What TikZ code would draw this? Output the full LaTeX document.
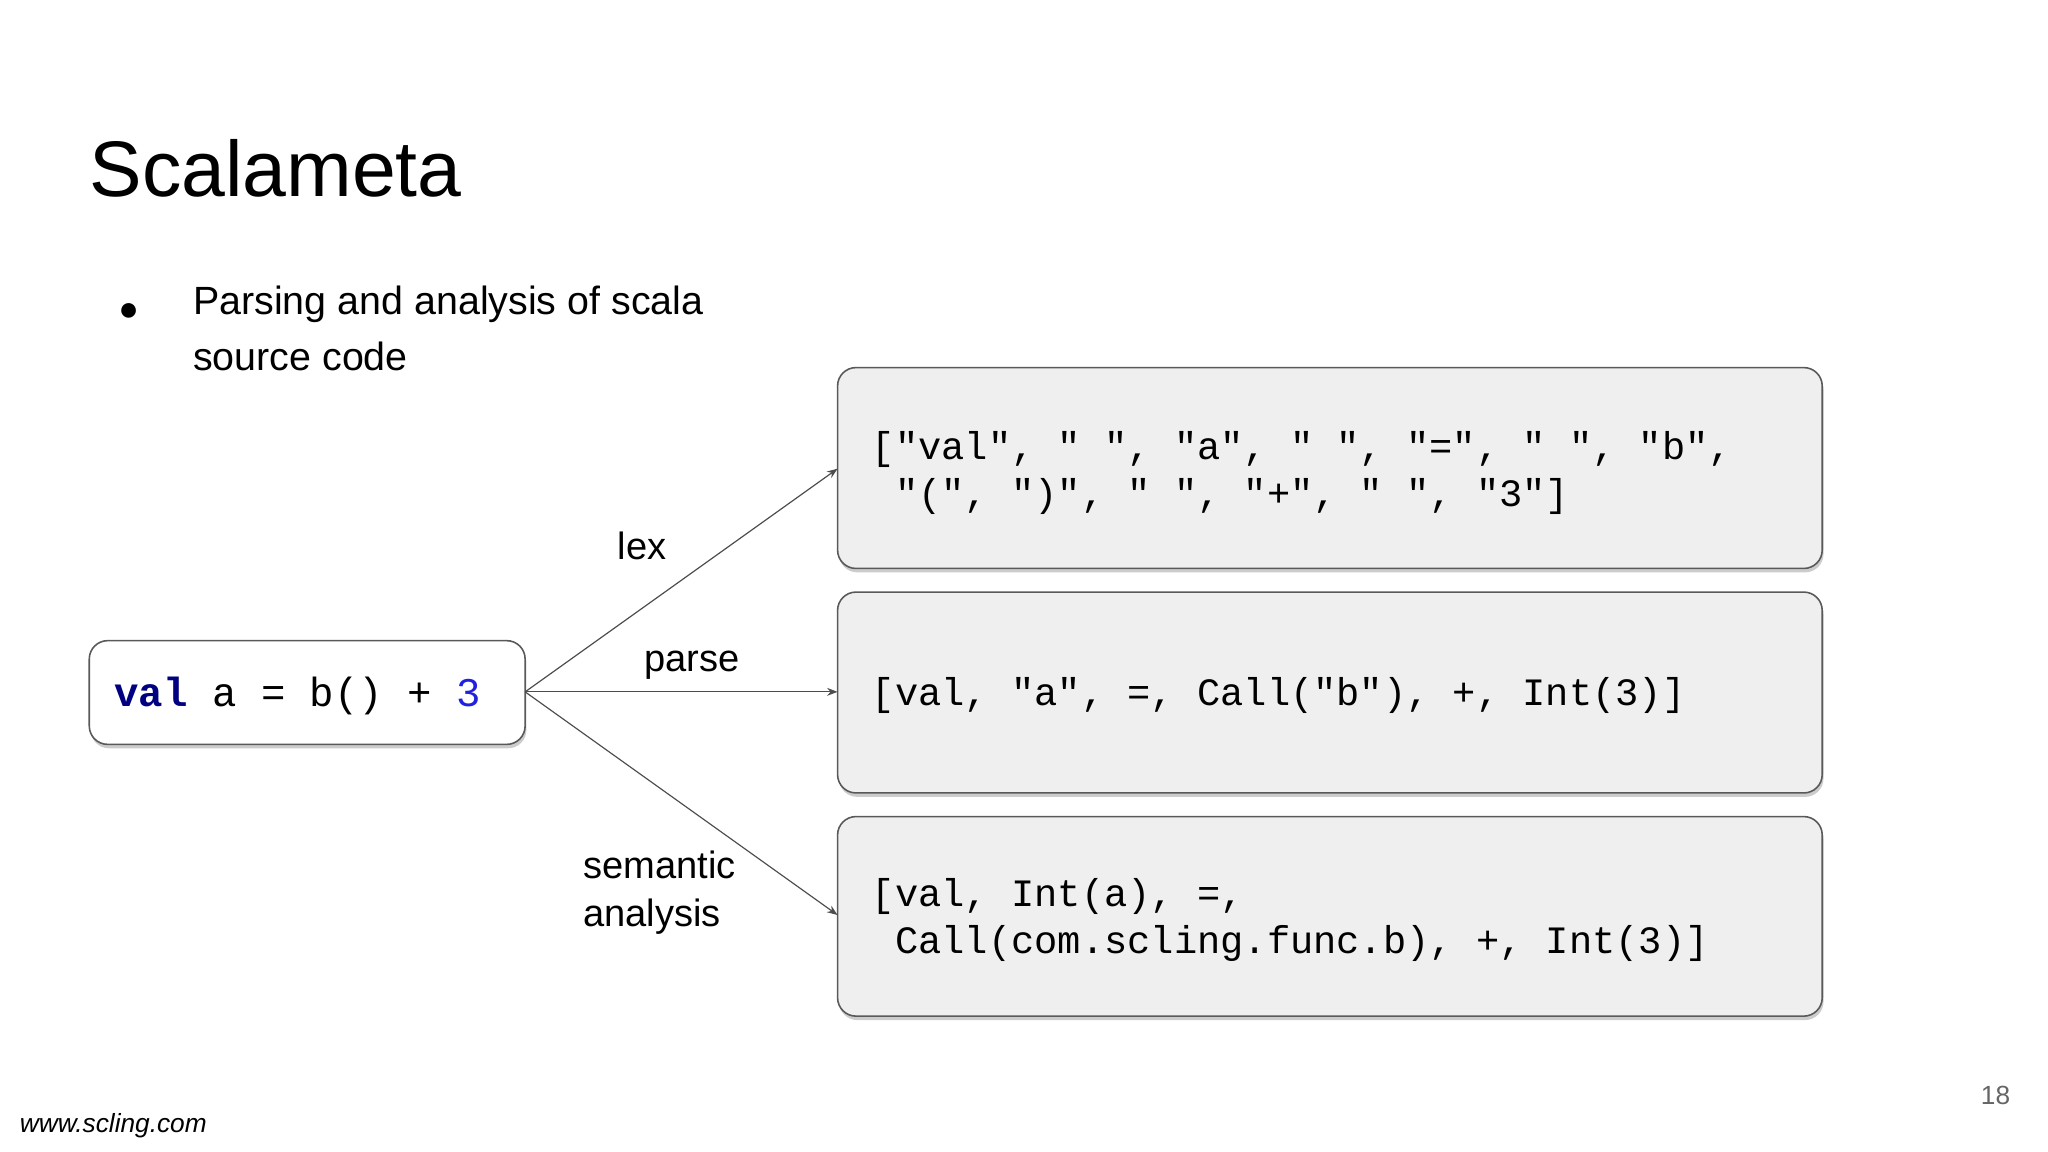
\documentclass[tikz,border=0pt]{standalone}
\usepackage{fontspec}
\setmainfont{Liberation Sans}
\setmonofont{Liberation Mono}
\usetikzlibrary{shadows,arrows.meta}
\definecolor{boxfill}{HTML}{EFEFEF}
\definecolor{navy}{HTML}{000080}
\definecolor{numblue}{HTML}{2020E0}
\begin{document}
\begin{tikzpicture}[x=1pt,y=-1pt,
  box/.style={draw=black!65,line width=1.2pt,rounded corners=14pt,drop shadow={shadow xshift=1pt,shadow yshift=-3pt,opacity=0.4}},
  code/.style={font=\fontsize{29.5}{36}\selectfont\ttfamily,anchor=west,align=left,inner sep=0},
  lbl/.style={font=\fontsize{29}{35}\selectfont,inner sep=0},
  arr/.style={draw=black!70,line width=0.9pt,-{Stealth[length=8pt,width=6pt]}}]
\useasboundingbox (0,0) rectangle (1560,877.5);
\node[anchor=base west,inner sep=0,font=\fontsize{60}{70}\selectfont] (title) at (68,150) {Scalameta};
\node[anchor=base,inner sep=0,font=\fontsize{26}{30}\selectfont] (bul) at (98,244) {●};
\node[anchor=north west,inner sep=0,align=left,font=\fontsize{30}{42}\selectfont] (btxt) at (147,218) {Parsing and analysis of scala\\source code};
\draw[box,fill=white] (68,488) rectangle (400,567);
\coordinate (src) at (400,527);
\node[code,font=\fontsize{31}{36}\selectfont\ttfamily] (srct) at (87,530) {\textbf{\color{navy}val} a = b() + {\color{numblue}3}};
\draw[box,fill=boxfill] (638,280) rectangle (1388,433);
\draw[box,fill=boxfill] (638,451) rectangle (1388,604);
\draw[box,fill=boxfill] (638,622) rectangle (1388,774);
\coordinate (t1) at (638,357);
\coordinate (t2) at (638,527);
\coordinate (t3) at (638,697);
\node[code] (c1) at (664,360) {["val", " ", "a", " ", "=", " ", "b",\\\hspace*{0.6em}"(", ")", " ", "+", " ", "3"]};
\node[code] (c2) at (664,530) {[val, "a", =, Call("b"), +, Int(3)]};
\node[code] (c3) at (664,701) {[val, Int(a), =,\\\hspace*{0.6em}Call(com.scling.func.b), +, Int(3)]};
\draw[arr] (src) -- (t1);
\draw[arr] (src) -- (t2);
\draw[arr] (src) -- (t3);
\node[lbl] (l1) at (489,416) {lex};
\node[lbl] (l2) at (527,507) {parse};
\node[lbl,anchor=west,align=left,font=\fontsize{29}{36}\selectfont] (l3) at (444,680) {semantic\\analysis};
\node[anchor=base west,inner sep=0,font=\fontsize{20}{24}\selectfont\itshape] (www) at (15,863) {www.scling.com};
\node[anchor=base,inner sep=0,text=black!60,font=\fontsize{20}{24}\selectfont] (pg) at (1520,841) {18};
\end{tikzpicture}
\end{document}
